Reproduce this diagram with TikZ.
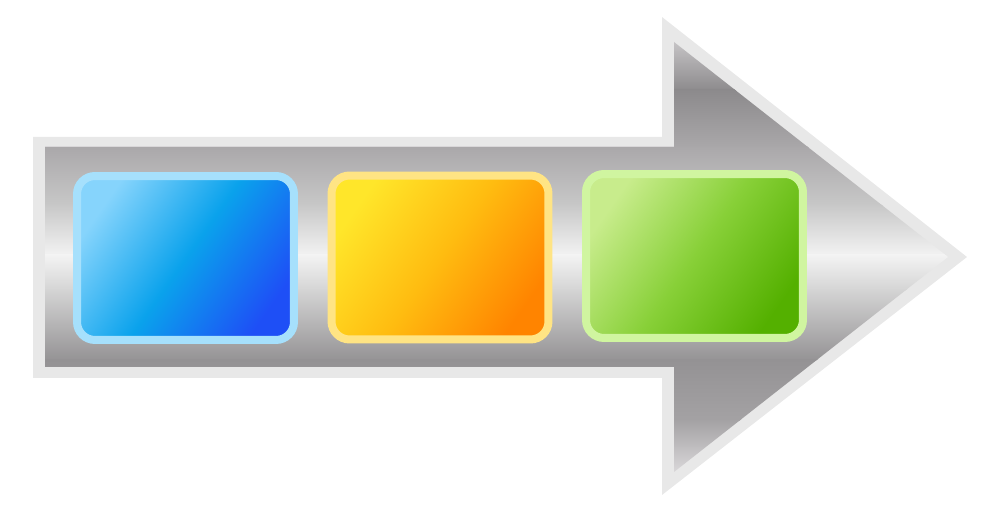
\documentclass[tikz,border=0pt]{standalone}
\usetikzlibrary{calc}
\definecolor{rimgray}{HTML}{E8E8E8}
\definecolor{gA}{HTML}{C6C4C6}
\definecolor{gB}{HTML}{8C8A8C}
\definecolor{gC}{HTML}{AAA8AA}
\definecolor{gD}{HTML}{C8C8C8}
\definecolor{gE}{HTML}{F3F3F3}
\definecolor{gF}{HTML}{D4D4D4}
\definecolor{gG}{HTML}{949294}
\definecolor{gH}{HTML}{A4A2A4}
\definecolor{gI}{HTML}{DAD8DA}
\definecolor{blueTL}{HTML}{86D4FC}
\definecolor{blueM}{HTML}{0AA2EC}
\definecolor{blueBR}{HTML}{1E4FF6}
\definecolor{blueRim}{HTML}{A6E0FC}
\definecolor{orTL}{HTML}{FFE62A}
\definecolor{orM}{HTML}{FFBC10}
\definecolor{orBR}{HTML}{FF8400}
\definecolor{orRim}{HTML}{FFE484}
\definecolor{grTL}{HTML}{C8EC8C}
\definecolor{grM}{HTML}{88D038}
\definecolor{grBR}{HTML}{54B000}
\definecolor{grRim}{HTML}{D0F5A0}
\tikzset{
  panel/.style={rectangle, rounded corners=0.36cm, line width=0.16cm,
    minimum width=4.34cm, minimum height=3.28cm, inner sep=0pt},
}
\begin{document}
\begin{tikzpicture}[x=0.02cm,y=-0.02cm]
\useasboundingbox (0,0) rectangle (992,526);
% outer rim of the arrow
\fill[rimgray] (33,137) -- (662,137) -- (662,17) -- (967,257) -- (662,495)
  -- (662,378) -- (33,378) -- cycle;
% metallic body
\begin{scope}
\clip (45,147) -- (674,147) -- (674,42) -- (948,257) -- (674,472)
  -- (674,367) -- (45,367) -- cycle;
\shade[top color=gA, bottom color=gB] (40,41) rectangle (950,91);
\shade[top color=gB, bottom color=gC] (40,90) rectangle (950,148);
\shade[top color=gC, bottom color=gD] (40,147) rectangle (950,206);
\shade[top color=gD, bottom color=gE] (40,205) rectangle (950,256);
\shade[top color=gE, bottom color=gF] (40,255) rectangle (950,291);
\shade[top color=gF, bottom color=gG] (40,290) rectangle (950,361);
\shade[top color=gG, bottom color=gH] (40,360) rectangle (950,421);
\shade[top color=gH, bottom color=gI] (40,420) rectangle (950,473);
\end{scope}
% panels
\node[panel, draw=blueRim, top color=blueTL, bottom color=blueBR, middle color=blueM,
  shading angle=55] (p1) at (185.5,258) {};
\node[panel, draw=orRim, top color=orTL, bottom color=orBR, middle color=orM,
  shading angle=55] (p2) at (440,257.5) {};
\node[panel, draw=grRim, top color=grTL, bottom color=grBR, middle color=grM,
  shading angle=55] (p3) at (694.5,256) {};
\end{tikzpicture}
\end{document}
